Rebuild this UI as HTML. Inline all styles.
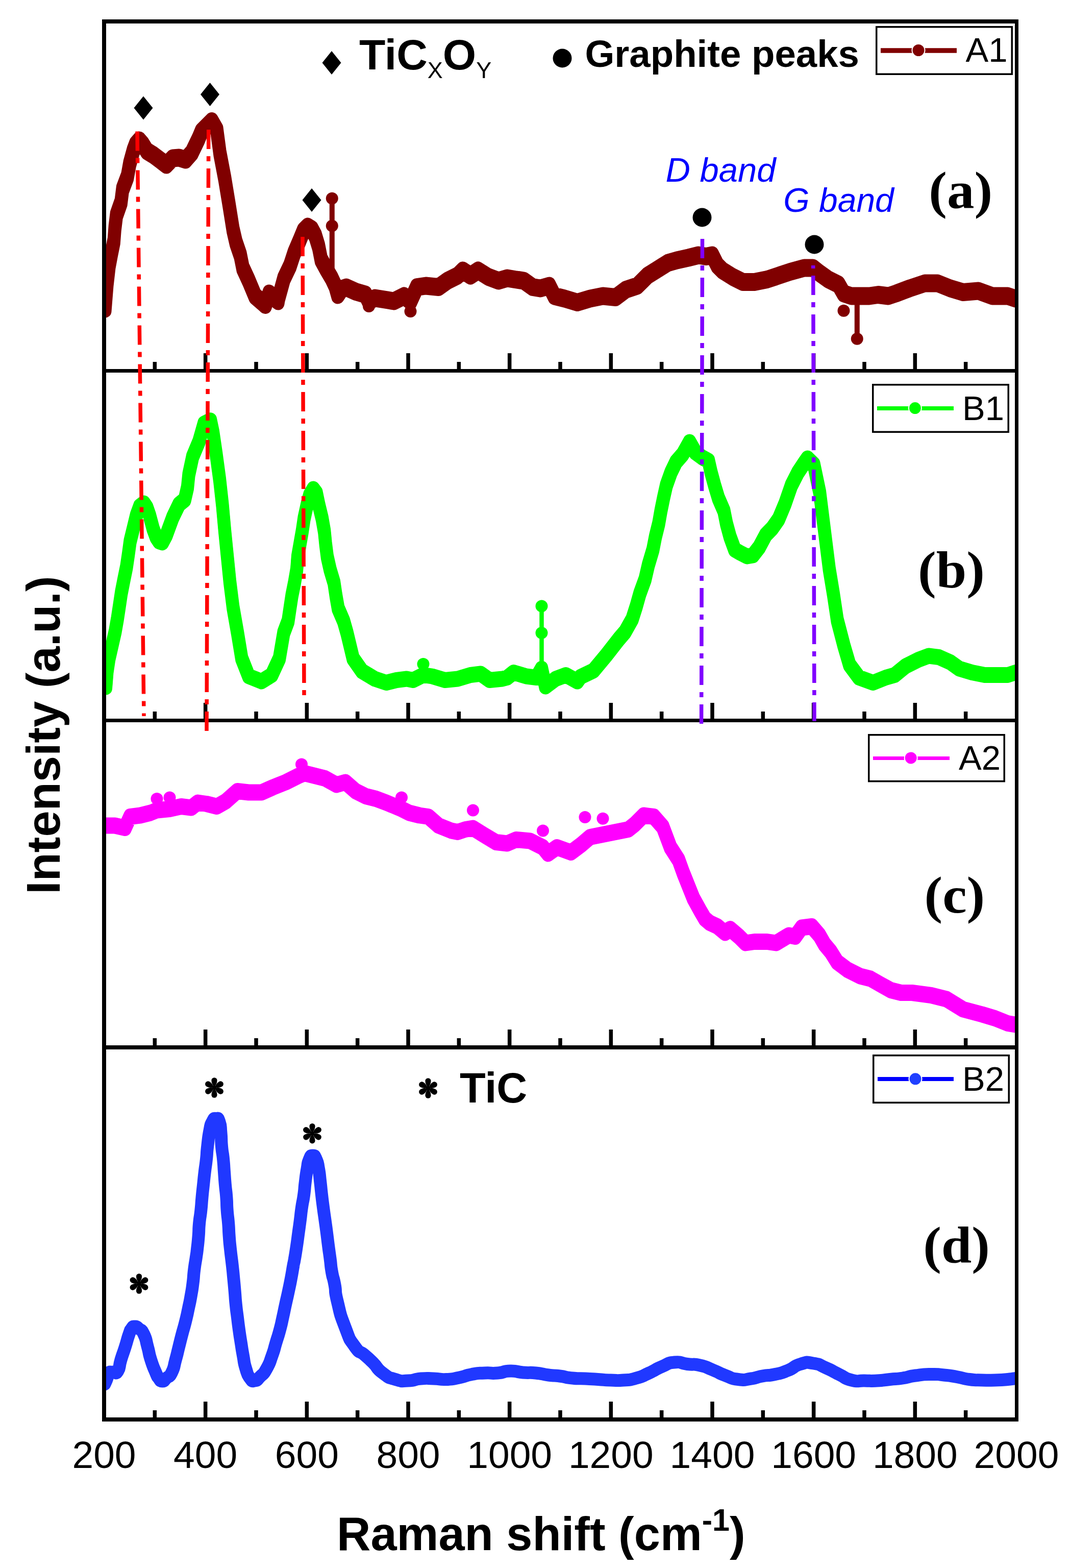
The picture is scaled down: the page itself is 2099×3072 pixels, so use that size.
<!DOCTYPE html>
<html><head><meta charset="utf-8"><title>Raman spectra</title><style>html,body{margin:0;padding:0;background:#fff;overflow:hidden}svg{display:block}text{font-family:"Liberation Sans",Arial,sans-serif}.serif{font-family:"Liberation Serif","Times New Roman",serif;font-weight:bold}</style></head><body>
<svg width="2099" height="3072" viewBox="0 0 2099 3072">
<rect x="0" y="0" width="2099" height="3072" fill="#fff"/>
<defs><clipPath id="ca"><rect x="200" y="38" width="1796" height="692"/></clipPath><clipPath id="cb"><rect x="200" y="723" width="1796" height="692"/></clipPath><clipPath id="cc"><rect x="200" y="1408" width="1796" height="648"/></clipPath><clipPath id="cd"><rect x="200" y="2048" width="1796" height="737"/></clipPath></defs>
<g clip-path="url(#ca)" fill="#800000" stroke="#800000"><polyline points="206.00,600.00 208.00,575.00 210.00,550.00 214.00,515.00 218.30,492.00 223.30,467.00 225.20,442.00 228.30,416.50 237.20,391.00 240.30,366.00 249.70,341.00 254.20,316.00 261.10,291.00 266.00,278.00 273.00,270.00 280.00,278.00 288.00,291.00 301.00,299.00 313.00,308.00 326.00,318.00 338.50,305.00 351.00,304.00 363.70,308.00 376.00,294.00 389.00,267.00 395.00,252.50 415.00,232.50 425.00,250.00 431.00,295.00 440.50,345.00 448.75,395.00 456.75,445.00 462.50,470.00 471.00,495.00 476.00,520.00 487.50,545.00 500.00,575.00 520.00,592.50 527.50,570.00 545.00,585.00 546.00,579.00 556.40,541.00 568.30,516.00 576.50,491.00 587.20,466.00 595.00,447.00 603.00,439.00 611.00,444.00 618.00,457.00 624.40,478.00 629.40,503.50 640.00,523.00 650.00,540.00 657.00,555.00 662.00,573.00 670.00,561.00 678.50,558.00 697.40,566.50 716.30,572.00 722.60,585.00 735.00,579.00 757.00,582.50 772.00,585.00 792.00,575.00 804.50,585.00 817.00,557.50 834.50,555.00 859.50,557.50 877.00,545.00 897.00,535.00 907.00,525.00 922.00,535.00 937.00,525.00 957.00,537.50 977.00,545.00 994.00,540.00 1009.00,542.50 1026.50,545.00 1044.00,557.50 1059.00,560.00 1076.50,555.00 1086.50,575.00 1106.50,580.00 1131.50,587.50 1156.50,580.00 1181.50,575.00 1206.50,577.50 1226.50,562.50 1249.00,555.00 1269.00,535.00 1289.00,522.50 1309.00,510.00 1326.50,505.00 1349.00,500.00 1369.00,495.00 1384.00,497.50 1396.00,495.00 1406.00,515.00 1416.00,525.00 1436.00,537.50 1456.00,547.50 1478.50,547.50 1503.50,542.50 1526.00,535.00 1548.50,527.50 1576.00,520.00 1593.50,520.00 1606.00,530.00 1623.50,542.50 1643.50,552.50 1653.50,570.00 1668.50,575.00 1703.50,575.00 1721.00,572.50 1741.00,575.00 1756.00,570.00 1782.50,560.00 1812.50,550.00 1837.50,550.00 1862.50,560.00 1887.50,567.50 1917.50,565.00 1945.00,575.00 1975.00,575.00 1990.00,580.00" fill="none" stroke-width="25" stroke-linejoin="round" stroke-linecap="round"/><polyline points="206.00,610.00 208.00,585.00 210.00,560.00 214.00,525.00 218.30,502.00 223.30,477.00 225.20,452.00 228.30,426.50 237.20,401.00 240.30,376.00 249.70,351.00 254.20,326.00 261.10,301.00 266.00,288.00 273.00,280.00 280.00,288.00 288.00,301.00 301.00,309.00 313.00,318.00 326.00,328.00 338.50,315.00 351.00,314.00 363.70,318.00 376.00,304.00 389.00,277.00 395.00,262.50 415.00,242.50 425.00,260.00 431.00,305.00 440.50,355.00 448.75,405.00 456.75,455.00 462.50,480.00 471.00,505.00 476.00,530.00 487.50,555.00 500.00,585.00 520.00,602.50 527.50,580.00 545.00,595.00 546.00,589.00 556.40,551.00 568.30,526.00 576.50,501.00 587.20,476.00 595.00,457.00 603.00,449.00 611.00,454.00 618.00,467.00 624.40,488.00 629.40,513.50 640.00,533.00 650.00,550.00 657.00,565.00 662.00,583.00 670.00,571.00 678.50,568.00 697.40,576.50 716.30,582.00 722.60,595.00 735.00,589.00 757.00,592.50 772.00,595.00 792.00,585.00 804.50,595.00 817.00,567.50 834.50,565.00 859.50,567.50 877.00,555.00 897.00,545.00 907.00,535.00 922.00,545.00 937.00,535.00 957.00,547.50 977.00,555.00 994.00,550.00 1009.00,552.50 1026.50,555.00 1044.00,567.50 1059.00,570.00 1076.50,565.00 1086.50,585.00 1106.50,590.00 1131.50,597.50 1156.50,590.00 1181.50,585.00 1206.50,587.50 1226.50,572.50 1249.00,565.00 1269.00,545.00 1289.00,532.50 1309.00,520.00 1326.50,515.00 1349.00,510.00 1369.00,505.00 1384.00,507.50 1396.00,505.00 1406.00,525.00 1416.00,535.00 1436.00,547.50 1456.00,557.50 1478.50,557.50 1503.50,552.50 1526.00,545.00 1548.50,537.50 1576.00,530.00 1593.50,530.00 1606.00,540.00 1623.50,552.50 1643.50,562.50 1653.50,580.00 1668.50,585.00 1703.50,585.00 1721.00,582.50 1741.00,585.00 1756.00,580.00 1782.50,570.00 1812.50,560.00 1837.50,560.00 1862.50,570.00 1887.50,577.50 1917.50,575.00 1945.00,585.00 1975.00,585.00 1990.00,590.00" fill="none" stroke-width="25" stroke-linejoin="round" stroke-linecap="round"/><line x1="650.75" y1="388" x2="650.75" y2="540" stroke-width="10"/><line x1="1679.75" y1="575" x2="1679.75" y2="663" stroke-width="10"/><circle cx="206" cy="600" r="12" stroke="none"/><circle cx="650.75" cy="388.75" r="12" stroke="none"/><circle cx="650.75" cy="442.5" r="12" stroke="none"/><circle cx="723" cy="600" r="12" stroke="none"/><circle cx="804.5" cy="610" r="12" stroke="none"/><circle cx="1653.5" cy="608.75" r="12" stroke="none"/><circle cx="1679.75" cy="663.75" r="12" stroke="none"/></g>
<g clip-path="url(#cb)" fill="#00FF00" stroke="#00FF00"><polyline points="207.50,1343.00 210.00,1312.00 213.75,1287.00 225.80,1234.00 230.20,1209.00 234.00,1184.00 237.80,1158.50 242.80,1133.00 247.90,1108.00 251.60,1083.00 255.00,1058.00 261.10,1033.00 267.40,1007.00 274.00,989.00 282.00,983.00 288.00,992.00 293.20,1007.00 300.10,1033.00 306.00,1049.00 312.00,1058.00 318.00,1060.00 326.00,1045.00 338.50,1011.00 351.00,985.00 362.00,976.00 367.50,952.00 370.00,927.00 377.50,892.00 390.00,862.00 400.00,827.00 412.50,820.75 417.50,844.50 423.75,887.00 430.50,937.00 436.00,987.00 440.50,1037.00 445.50,1087.00 450.50,1137.00 456.75,1187.00 465.50,1237.00 473.75,1287.00 487.50,1322.00 512.50,1332.00 532.50,1319.50 547.50,1287.00 556.00,1237.00 564.60,1214.00 568.30,1189.00 572.10,1164.00 577.20,1138.50 581.60,1113.00 583.50,1088.00 587.90,1063.00 592.30,1038.00 596.00,1013.00 601.70,987.00 607.00,967.00 614.00,955.00 620.00,963.00 625.00,987.00 631.30,1013.00 635.70,1038.00 638.20,1063.00 641.40,1088.00 647.00,1113.00 654.60,1138.50 658.40,1164.00 662.80,1189.00 673.50,1214.00 680.00,1237.00 692.00,1287.00 709.50,1312.00 734.50,1327.00 757.00,1334.50 777.00,1329.50 797.00,1327.00 809.50,1329.50 829.50,1319.50 847.00,1322.00 872.00,1329.50 897.00,1327.00 922.00,1319.50 942.00,1317.00 959.50,1329.50 984.50,1327.00 994.00,1324.50 1006.50,1314.50 1031.50,1322.00 1051.50,1324.50 1061.50,1307.00 1069.00,1342.00 1089.00,1327.00 1109.00,1319.50 1131.50,1332.00 1137.80,1323.00 1163.00,1311.00 1188.00,1281.00 1213.00,1249.00 1225.00,1235.00 1239.00,1210.00 1247.00,1185.00 1254.00,1160.00 1264.20,1132.00 1270.70,1104.00 1279.60,1074.00 1284.60,1048.50 1290.90,1023.00 1295.30,998.00 1300.40,973.00 1306.00,948.00 1315.00,922.60 1325.00,902.00 1338.00,887.00 1351.40,863.00 1363.00,883.50 1376.00,893.00 1388.50,900.00 1393.60,922.60 1400.50,948.00 1408.00,973.00 1418.80,998.00 1423.80,1023.00 1430.70,1048.50 1440.00,1074.00 1450.40,1080.00 1464.00,1087.00 1475.60,1085.00 1488.00,1069.00 1500.80,1045.00 1513.40,1032.00 1526.00,1014.00 1538.50,984.00 1551.00,948.00 1563.70,923.00 1576.30,904.00 1582.60,895.00 1595.00,907.00 1606.50,962.00 1612.75,1012.00 1619.00,1062.00 1625.25,1112.00 1633.50,1162.00 1641.00,1212.00 1654.00,1262.00 1665.00,1299.50 1683.50,1324.50 1711.00,1334.50 1736.00,1324.50 1753.50,1319.50 1775.00,1302.00 1800.00,1289.50 1820.00,1282.00 1840.00,1284.50 1862.50,1294.50 1880.00,1307.00 1905.00,1314.50 1930.00,1319.50 1955.00,1319.50 1975.00,1319.50 1990.00,1314.50" fill="none" stroke-width="25" stroke-linejoin="round" stroke-linecap="round"/><polyline points="207.50,1349.00 210.00,1318.00 213.75,1293.00 225.80,1240.00 230.20,1215.00 234.00,1190.00 237.80,1164.50 242.80,1139.00 247.90,1114.00 251.60,1089.00 255.00,1064.00 261.10,1039.00 267.40,1013.00 274.00,995.00 282.00,989.00 288.00,998.00 293.20,1013.00 300.10,1039.00 306.00,1055.00 312.00,1064.00 318.00,1066.00 326.00,1051.00 338.50,1017.00 351.00,991.00 362.00,982.00 367.50,958.00 370.00,933.00 377.50,898.00 390.00,868.00 400.00,833.00 412.50,826.75 417.50,850.50 423.75,893.00 430.50,943.00 436.00,993.00 440.50,1043.00 445.50,1093.00 450.50,1143.00 456.75,1193.00 465.50,1243.00 473.75,1293.00 487.50,1328.00 512.50,1338.00 532.50,1325.50 547.50,1293.00 556.00,1243.00 564.60,1220.00 568.30,1195.00 572.10,1170.00 577.20,1144.50 581.60,1119.00 583.50,1094.00 587.90,1069.00 592.30,1044.00 596.00,1019.00 601.70,993.00 607.00,973.00 614.00,961.00 620.00,969.00 625.00,993.00 631.30,1019.00 635.70,1044.00 638.20,1069.00 641.40,1094.00 647.00,1119.00 654.60,1144.50 658.40,1170.00 662.80,1195.00 673.50,1220.00 680.00,1243.00 692.00,1293.00 709.50,1318.00 734.50,1333.00 757.00,1340.50 777.00,1335.50 797.00,1333.00 809.50,1335.50 829.50,1325.50 847.00,1328.00 872.00,1335.50 897.00,1333.00 922.00,1325.50 942.00,1323.00 959.50,1335.50 984.50,1333.00 994.00,1330.50 1006.50,1320.50 1031.50,1328.00 1051.50,1330.50 1061.50,1313.00 1069.00,1348.00 1089.00,1333.00 1109.00,1325.50 1131.50,1338.00 1137.80,1329.00 1163.00,1317.00 1188.00,1287.00 1213.00,1255.00 1225.00,1241.00 1239.00,1216.00 1247.00,1191.00 1254.00,1166.00 1264.20,1138.00 1270.70,1110.00 1279.60,1080.00 1284.60,1054.50 1290.90,1029.00 1295.30,1004.00 1300.40,979.00 1306.00,954.00 1315.00,928.60 1325.00,908.00 1338.00,893.00 1351.40,869.00 1363.00,889.50 1376.00,899.00 1388.50,906.00 1393.60,928.60 1400.50,954.00 1408.00,979.00 1418.80,1004.00 1423.80,1029.00 1430.70,1054.50 1440.00,1080.00 1450.40,1086.00 1464.00,1093.00 1475.60,1091.00 1488.00,1075.00 1500.80,1051.00 1513.40,1038.00 1526.00,1020.00 1538.50,990.00 1551.00,954.00 1563.70,929.00 1576.30,910.00 1582.60,901.00 1595.00,913.00 1606.50,968.00 1612.75,1018.00 1619.00,1068.00 1625.25,1118.00 1633.50,1168.00 1641.00,1218.00 1654.00,1268.00 1665.00,1305.50 1683.50,1330.50 1711.00,1340.50 1736.00,1330.50 1753.50,1325.50 1775.00,1308.00 1800.00,1295.50 1820.00,1288.00 1840.00,1290.50 1862.50,1300.50 1880.00,1313.00 1905.00,1320.50 1930.00,1325.50 1955.00,1325.50 1975.00,1325.50 1990.00,1320.50" fill="none" stroke-width="25" stroke-linejoin="round" stroke-linecap="round"/><line x1="1061.5" y1="1187.5" x2="1061.5" y2="1310" stroke-width="8.5"/><circle cx="207.5" cy="1346" r="12" stroke="none"/><circle cx="1061.5" cy="1187.5" r="12" stroke="none"/><circle cx="1061.5" cy="1240" r="12" stroke="none"/><circle cx="829.5" cy="1301" r="12" stroke="none"/></g>
<g clip-path="url(#cc)" fill="#FF00FF" stroke="#FF00FF"><polyline points="205.00,1614.00 225.00,1614.00 245.00,1618.50 255.00,1596.50 275.00,1594.00 295.00,1589.00 307.50,1584.00 332.50,1581.50 355.00,1576.50 375.00,1579.00 387.50,1569.00 405.00,1571.50 425.00,1576.50 442.50,1566.50 465.00,1546.50 487.50,1549.00 512.50,1549.00 535.00,1539.00 560.00,1529.00 585.00,1516.50 597.00,1511.50 617.00,1516.50 637.00,1521.50 659.50,1534.00 677.00,1529.00 697.00,1546.50 717.00,1556.50 737.00,1561.50 757.00,1569.00 787.00,1581.50 802.00,1589.00 822.00,1594.00 839.50,1596.50 859.50,1614.00 884.50,1624.00 897.00,1626.50 912.00,1621.50 927.00,1619.00 947.00,1631.50 972.00,1646.50 994.00,1649.00 1011.50,1641.50 1039.00,1644.00 1064.00,1656.50 1074.00,1669.00 1091.50,1656.50 1119.00,1666.50 1139.00,1651.50 1156.50,1636.50 1181.50,1631.50 1206.50,1626.50 1231.50,1621.50 1244.00,1611.50 1261.50,1594.00 1281.50,1596.50 1299.00,1616.50 1314.00,1656.50 1330.00,1681.50 1339.00,1706.50 1349.00,1731.50 1359.00,1756.50 1372.75,1781.50 1381.50,1796.50 1391.00,1804.50 1406.00,1811.50 1421.00,1824.00 1431.00,1816.50 1448.50,1831.50 1461.00,1844.00 1478.50,1841.50 1503.50,1841.50 1521.00,1844.00 1546.00,1829.00 1558.50,1831.50 1571.00,1814.00 1591.00,1811.50 1606.00,1829.00 1616.00,1846.50 1628.50,1861.50 1641.00,1881.50 1661.00,1896.50 1686.00,1909.00 1706.00,1914.00 1723.50,1924.00 1746.00,1936.50 1766.00,1941.50 1787.50,1941.50 1825.00,1946.50 1855.00,1954.00 1887.50,1974.00 1925.00,1984.00 1950.00,1991.50 1975.00,2001.50 1990.00,2004.00" fill="none" stroke-width="25" stroke-linejoin="round" stroke-linecap="round"/><polyline points="205.00,1621.00 225.00,1621.00 245.00,1625.50 255.00,1603.50 275.00,1601.00 295.00,1596.00 307.50,1591.00 332.50,1588.50 355.00,1583.50 375.00,1586.00 387.50,1576.00 405.00,1578.50 425.00,1583.50 442.50,1573.50 465.00,1553.50 487.50,1556.00 512.50,1556.00 535.00,1546.00 560.00,1536.00 585.00,1523.50 597.00,1518.50 617.00,1523.50 637.00,1528.50 659.50,1541.00 677.00,1536.00 697.00,1553.50 717.00,1563.50 737.00,1568.50 757.00,1576.00 787.00,1588.50 802.00,1596.00 822.00,1601.00 839.50,1603.50 859.50,1621.00 884.50,1631.00 897.00,1633.50 912.00,1628.50 927.00,1626.00 947.00,1638.50 972.00,1653.50 994.00,1656.00 1011.50,1648.50 1039.00,1651.00 1064.00,1663.50 1074.00,1676.00 1091.50,1663.50 1119.00,1673.50 1139.00,1658.50 1156.50,1643.50 1181.50,1638.50 1206.50,1633.50 1231.50,1628.50 1244.00,1618.50 1261.50,1601.00 1281.50,1603.50 1299.00,1623.50 1314.00,1663.50 1330.00,1688.50 1339.00,1713.50 1349.00,1738.50 1359.00,1763.50 1372.75,1788.50 1381.50,1803.50 1391.00,1811.50 1406.00,1818.50 1421.00,1831.00 1431.00,1823.50 1448.50,1838.50 1461.00,1851.00 1478.50,1848.50 1503.50,1848.50 1521.00,1851.00 1546.00,1836.00 1558.50,1838.50 1571.00,1821.00 1591.00,1818.50 1606.00,1836.00 1616.00,1853.50 1628.50,1868.50 1641.00,1888.50 1661.00,1903.50 1686.00,1916.00 1706.00,1921.00 1723.50,1931.00 1746.00,1943.50 1766.00,1948.50 1787.50,1948.50 1825.00,1953.50 1855.00,1961.00 1887.50,1981.00 1925.00,1991.00 1950.00,1998.50 1975.00,2008.50 1990.00,2011.00" fill="none" stroke-width="25" stroke-linejoin="round" stroke-linecap="round"/><circle cx="591" cy="1497.5" r="12" stroke="none"/><circle cx="307.5" cy="1565" r="12" stroke="none"/><circle cx="332.5" cy="1562.5" r="12" stroke="none"/><circle cx="787" cy="1562.5" r="12" stroke="none"/><circle cx="927" cy="1587.5" r="12" stroke="none"/><circle cx="1064" cy="1627.5" r="12" stroke="none"/><circle cx="1146.5" cy="1601" r="12" stroke="none"/><circle cx="1181.5" cy="1603.75" r="12" stroke="none"/></g>
<g clip-path="url(#cd)" fill="#2038FF" stroke="#2038FF"><path d="M205.00,2712.00 C206.67,2708.00 207.67,2707.33 210.00,2700.00 C212.33,2692.67 208.00,2694.00 212.00,2690.00 C216.00,2686.00 215.67,2689.33 222.00,2688.00 C228.33,2686.67 226.00,2694.00 231.00,2686.00 C236.00,2678.00 232.23,2679.67 237.00,2664.00 C241.77,2648.33 240.00,2655.67 245.30,2639.00 C250.60,2622.33 248.67,2626.00 252.90,2614.00 C257.13,2602.00 254.30,2608.00 258.00,2603.00 C261.70,2598.00 259.33,2599.00 264.00,2599.00 C268.67,2599.00 266.03,2598.00 272.00,2603.00 C277.97,2608.00 276.10,2602.00 281.90,2614.00 C287.70,2626.00 284.80,2622.33 289.40,2639.00 C294.00,2655.67 290.43,2647.33 295.70,2664.00 C300.97,2680.67 300.10,2677.00 305.20,2689.00 C310.30,2701.00 306.73,2694.33 311.00,2700.00 C315.27,2705.67 313.00,2706.00 318.00,2706.00 C323.00,2706.00 319.80,2705.67 326.00,2700.00 C332.20,2694.33 330.53,2701.00 336.60,2689.00 C342.67,2677.00 339.57,2680.67 344.20,2664.00 C348.83,2647.33 346.30,2655.67 350.50,2639.00 C354.70,2622.33 352.40,2630.83 356.80,2614.00 C361.20,2597.17 359.50,2605.50 363.70,2588.50 C367.90,2571.50 365.83,2579.83 369.40,2563.00 C372.97,2546.17 371.47,2554.67 374.40,2538.00 C377.33,2521.33 376.10,2529.67 378.20,2513.00 C380.30,2496.33 378.60,2504.80 380.70,2488.00 C382.80,2471.20 382.53,2476.27 384.50,2462.60 C386.47,2448.93 385.07,2460.53 386.60,2447.00 C388.13,2433.47 387.77,2438.67 389.10,2422.00 C390.43,2405.33 389.03,2413.83 390.60,2397.00 C392.17,2380.17 392.00,2388.50 393.80,2371.50 C395.60,2354.50 394.40,2362.83 396.00,2346.00 C397.60,2329.17 396.83,2337.67 398.60,2321.00 C400.37,2304.33 399.33,2312.67 401.30,2296.00 C403.27,2279.33 402.70,2287.67 404.50,2271.00 C406.30,2254.33 404.53,2264.67 406.70,2246.00 C408.87,2227.33 407.90,2231.00 411.00,2215.00 C414.10,2199.00 411.97,2205.87 416.00,2198.00 C420.03,2190.13 418.43,2191.40 423.10,2191.40 C427.77,2191.40 426.70,2188.47 430.00,2198.00 C433.30,2207.53 431.50,2204.00 433.00,2220.00 C434.50,2236.00 432.97,2229.00 434.50,2246.00 C436.03,2263.00 435.93,2254.33 437.60,2271.00 C439.27,2287.67 438.23,2279.33 439.50,2296.00 C440.77,2312.67 439.93,2304.33 441.40,2321.00 C442.87,2337.67 442.63,2329.17 443.90,2346.00 C445.17,2362.83 443.93,2354.50 445.20,2371.50 C446.47,2388.50 446.37,2380.17 447.70,2397.00 C449.03,2413.83 447.93,2405.33 449.20,2422.00 C450.47,2438.67 449.43,2427.67 451.50,2447.00 C453.57,2466.33 453.27,2460.67 455.40,2480.00 C457.53,2499.33 456.30,2488.33 457.90,2505.00 C459.50,2521.67 458.73,2513.13 460.20,2530.00 C461.67,2546.87 460.57,2538.60 462.30,2555.60 C464.03,2572.60 463.30,2564.20 465.40,2581.00 C467.50,2597.80 466.27,2589.33 468.60,2606.00 C470.93,2622.67 469.77,2614.33 472.40,2631.00 C475.03,2647.67 473.37,2639.17 476.50,2656.00 C479.63,2672.83 477.30,2666.83 481.80,2681.50 C486.30,2696.17 484.20,2692.17 490.00,2700.00 C495.80,2707.83 492.53,2706.00 499.20,2705.00 C505.87,2704.00 502.23,2704.83 510.00,2697.00 C517.77,2689.17 514.77,2695.17 522.50,2681.50 C530.23,2667.83 527.10,2672.83 533.20,2656.00 C539.30,2639.17 535.77,2647.67 540.80,2631.00 C545.83,2614.33 543.83,2622.67 548.30,2606.00 C552.77,2589.33 550.43,2597.80 554.20,2581.00 C557.97,2564.20 555.90,2572.60 559.60,2555.60 C563.30,2538.60 561.70,2546.87 565.30,2530.00 C568.90,2513.13 567.23,2521.67 570.40,2505.00 C573.57,2488.33 572.50,2492.67 574.80,2480.00 C577.10,2467.33 575.10,2479.83 577.30,2467.00 C579.50,2454.17 578.87,2458.50 581.40,2441.50 C583.93,2424.50 582.60,2432.83 584.90,2416.00 C587.20,2399.17 586.13,2407.67 588.30,2391.00 C590.47,2374.33 588.97,2382.67 591.40,2366.00 C593.83,2349.33 593.30,2357.67 595.60,2341.00 C597.90,2324.33 596.17,2333.00 598.30,2316.00 C600.43,2299.00 599.43,2304.67 602.00,2290.00 C604.57,2275.33 602.33,2280.67 606.00,2272.00 C609.67,2263.33 608.33,2264.00 613.00,2264.00 C617.67,2264.00 616.17,2263.33 620.00,2272.00 C623.83,2280.67 621.93,2275.67 624.50,2290.00 C627.07,2304.33 625.70,2298.00 627.70,2315.00 C629.70,2332.00 628.53,2324.00 630.50,2341.00 C632.47,2358.00 631.40,2349.33 633.60,2366.00 C635.80,2382.67 634.80,2374.33 637.10,2391.00 C639.40,2407.67 638.30,2399.17 640.50,2416.00 C642.70,2432.83 641.47,2424.50 643.70,2441.50 C645.93,2458.50 644.97,2450.17 647.20,2467.00 C649.43,2483.83 647.47,2475.33 650.40,2492.00 C653.33,2508.67 652.38,2497.67 656.00,2517.00 C659.62,2536.33 654.50,2522.33 661.25,2550.00 C668.00,2577.67 665.00,2570.83 676.25,2600.00 C687.50,2629.17 682.08,2619.17 695.00,2637.50 C707.92,2655.83 702.92,2644.17 715.00,2655.00 C727.08,2665.83 719.58,2658.33 731.25,2670.00 C742.92,2681.67 735.42,2679.17 750.00,2690.00 C764.58,2700.83 758.33,2697.50 775.00,2702.50 C791.67,2707.50 783.33,2705.50 800.00,2705.00 C816.67,2704.50 808.33,2702.33 825.00,2701.00 C841.67,2699.67 833.33,2700.50 850.00,2701.00 C866.67,2701.50 858.33,2703.17 875.00,2702.50 C891.67,2701.83 883.33,2702.33 900.00,2699.00 C916.67,2695.67 908.33,2695.50 925.00,2692.50 C941.67,2689.50 933.33,2690.83 950.00,2690.00 C966.67,2689.17 958.33,2691.33 975.00,2690.00 C991.67,2688.67 983.33,2686.33 1000.00,2686.00 C1016.67,2685.67 1008.33,2687.67 1025.00,2689.00 C1041.67,2690.33 1033.33,2688.33 1050.00,2690.00 C1066.67,2691.67 1059.33,2692.00 1075.00,2694.00 C1090.67,2696.00 1081.33,2694.00 1097.00,2696.00 C1112.67,2698.00 1105.33,2698.33 1122.00,2700.00 C1138.67,2701.67 1130.33,2700.17 1147.00,2701.00 C1163.67,2701.83 1155.33,2701.50 1172.00,2702.50 C1188.67,2703.50 1180.33,2703.50 1197.00,2704.00 C1213.67,2704.50 1205.33,2705.33 1222.00,2704.00 C1238.67,2702.67 1230.33,2704.67 1247.00,2700.00 C1263.67,2695.33 1255.33,2697.50 1272.00,2690.00 C1288.67,2682.50 1280.33,2684.50 1297.00,2677.50 C1313.67,2670.50 1305.33,2670.67 1322.00,2669.00 C1338.67,2667.33 1330.33,2670.50 1347.00,2672.50 C1363.67,2674.50 1355.33,2671.17 1372.00,2675.00 C1388.67,2678.83 1380.33,2677.33 1397.00,2684.00 C1413.67,2690.67 1405.33,2688.83 1422.00,2695.00 C1438.67,2701.17 1430.33,2700.50 1447.00,2702.50 C1463.67,2704.50 1456.33,2703.17 1472.00,2701.00 C1487.67,2698.83 1478.33,2698.83 1494.00,2696.00 C1509.67,2693.17 1502.33,2696.17 1519.00,2692.50 C1535.67,2688.83 1527.33,2691.67 1544.00,2685.00 C1560.67,2678.33 1552.33,2677.17 1569.00,2672.50 C1585.67,2667.83 1577.33,2668.50 1594.00,2671.00 C1610.67,2673.50 1602.33,2672.83 1619.00,2680.00 C1635.67,2687.17 1627.33,2684.50 1644.00,2692.50 C1660.67,2700.50 1652.33,2699.83 1669.00,2704.00 C1685.67,2708.17 1677.33,2704.67 1694.00,2705.00 C1710.67,2705.33 1702.33,2705.83 1719.00,2705.00 C1735.67,2704.17 1727.33,2704.17 1744.00,2702.50 C1760.67,2700.83 1752.33,2702.50 1769.00,2700.00 C1785.67,2697.50 1775.33,2697.50 1794.00,2695.00 C1812.67,2692.50 1806.33,2692.83 1825.00,2692.50 C1843.67,2692.17 1833.33,2692.33 1850.00,2694.00 C1866.67,2695.67 1858.33,2694.67 1875.00,2697.50 C1891.67,2700.33 1883.33,2700.33 1900.00,2702.50 C1916.67,2704.67 1908.33,2703.50 1925.00,2704.00 C1941.67,2704.50 1933.33,2704.50 1950.00,2704.00 C1966.67,2703.50 1961.00,2703.83 1975.00,2702.50 C1989.00,2701.17 1986.33,2700.83 1992.00,2700.00" fill="none" stroke-width="25" stroke-linejoin="round" stroke-linecap="round"/></g>
<g fill="#000"><rect x="200" y="38" width="8" height="2747"/><rect x="1989" y="38" width="7" height="2747"/><rect x="200" y="38" width="1796" height="8"/><rect x="200" y="723" width="1796" height="7"/><rect x="299.58" y="709" width="7.5" height="14"/><rect x="398.92" y="692" width="7.5" height="31"/><rect x="498.25" y="709" width="7.5" height="14"/><rect x="597.58" y="692" width="7.5" height="31"/><rect x="696.91" y="709" width="7.5" height="14"/><rect x="796.25" y="692" width="7.5" height="31"/><rect x="895.58" y="709" width="7.5" height="14"/><rect x="994.91" y="692" width="7.5" height="31"/><rect x="1094.25" y="709" width="7.5" height="14"/><rect x="1193.58" y="692" width="7.5" height="31"/><rect x="1292.91" y="709" width="7.5" height="14"/><rect x="1392.25" y="692" width="7.5" height="31"/><rect x="1491.58" y="709" width="7.5" height="14"/><rect x="1590.91" y="692" width="7.5" height="31"/><rect x="1690.25" y="709" width="7.5" height="14"/><rect x="1789.58" y="692" width="7.5" height="31"/><rect x="1888.91" y="709" width="7.5" height="14"/><rect x="200" y="1408" width="1796" height="7"/><rect x="299.58" y="1394" width="7.5" height="14"/><rect x="398.92" y="1377" width="7.5" height="31"/><rect x="498.25" y="1394" width="7.5" height="14"/><rect x="597.58" y="1377" width="7.5" height="31"/><rect x="696.91" y="1394" width="7.5" height="14"/><rect x="796.25" y="1377" width="7.5" height="31"/><rect x="895.58" y="1394" width="7.5" height="14"/><rect x="994.91" y="1377" width="7.5" height="31"/><rect x="1094.25" y="1394" width="7.5" height="14"/><rect x="1193.58" y="1377" width="7.5" height="31"/><rect x="1292.91" y="1394" width="7.5" height="14"/><rect x="1392.25" y="1377" width="7.5" height="31"/><rect x="1491.58" y="1394" width="7.5" height="14"/><rect x="1590.91" y="1377" width="7.5" height="31"/><rect x="1690.25" y="1394" width="7.5" height="14"/><rect x="1789.58" y="1377" width="7.5" height="31"/><rect x="1888.91" y="1394" width="7.5" height="14"/><rect x="200" y="2048" width="1796" height="8"/><rect x="299.58" y="2034" width="7.5" height="14"/><rect x="398.92" y="2017" width="7.5" height="31"/><rect x="498.25" y="2034" width="7.5" height="14"/><rect x="597.58" y="2017" width="7.5" height="31"/><rect x="696.91" y="2034" width="7.5" height="14"/><rect x="796.25" y="2017" width="7.5" height="31"/><rect x="895.58" y="2034" width="7.5" height="14"/><rect x="994.91" y="2017" width="7.5" height="31"/><rect x="1094.25" y="2034" width="7.5" height="14"/><rect x="1193.58" y="2017" width="7.5" height="31"/><rect x="1292.91" y="2034" width="7.5" height="14"/><rect x="1392.25" y="2017" width="7.5" height="31"/><rect x="1491.58" y="2034" width="7.5" height="14"/><rect x="1590.91" y="2017" width="7.5" height="31"/><rect x="1690.25" y="2034" width="7.5" height="14"/><rect x="1789.58" y="2017" width="7.5" height="31"/><rect x="1888.91" y="2034" width="7.5" height="14"/><rect x="200" y="2777" width="1796" height="8"/><rect x="299.58" y="2763" width="7.5" height="14"/><rect x="398.92" y="2746" width="7.5" height="31"/><rect x="498.25" y="2763" width="7.5" height="14"/><rect x="597.58" y="2746" width="7.5" height="31"/><rect x="696.91" y="2763" width="7.5" height="14"/><rect x="796.25" y="2746" width="7.5" height="31"/><rect x="895.58" y="2763" width="7.5" height="14"/><rect x="994.91" y="2746" width="7.5" height="31"/><rect x="1094.25" y="2763" width="7.5" height="14"/><rect x="1193.58" y="2746" width="7.5" height="31"/><rect x="1292.91" y="2763" width="7.5" height="14"/><rect x="1392.25" y="2746" width="7.5" height="31"/><rect x="1491.58" y="2763" width="7.5" height="14"/><rect x="1590.91" y="2746" width="7.5" height="31"/><rect x="1690.25" y="2763" width="7.5" height="14"/><rect x="1789.58" y="2746" width="7.5" height="31"/><rect x="1888.91" y="2763" width="7.5" height="14"/></g>
<line x1="269" y1="257.5" x2="282" y2="1403" stroke="#FF0000" stroke-width="7.5" stroke-dasharray="38 14 10 14" stroke-dashoffset="0"/>
<line x1="408.75" y1="254" x2="405" y2="1432" stroke="#FF0000" stroke-width="7.5" stroke-dasharray="38 14 10 14" stroke-dashoffset="0"/>
<line x1="593" y1="464" x2="596" y2="1362" stroke="#FF0000" stroke-width="7.5" stroke-dasharray="38 14 10 14" stroke-dashoffset="0"/>
<line x1="1376.5" y1="468" x2="1374.6" y2="1418" stroke="#8000FF" stroke-width="7.5" stroke-dasharray="38 14 10 14" stroke-dashoffset="0"/>
<line x1="1593.7" y1="520" x2="1596" y2="1413" stroke="#8000FF" stroke-width="7.5" stroke-dasharray="38 14 10 14" stroke-dashoffset="56"/>
<g font-size="75" fill="#000"><text x="204.00" y="2876" text-anchor="middle">200</text><text x="402.67" y="2876" text-anchor="middle">400</text><text x="601.33" y="2876" text-anchor="middle">600</text><text x="800.00" y="2876" text-anchor="middle">800</text><text x="998.66" y="2876" text-anchor="middle">1000</text><text x="1197.33" y="2876" text-anchor="middle">1200</text><text x="1396.00" y="2876" text-anchor="middle">1400</text><text x="1594.66" y="2876" text-anchor="middle">1600</text><text x="1793.33" y="2876" text-anchor="middle">1800</text><text x="1991.99" y="2876" text-anchor="middle">2000</text></g>
<text x="660" y="3037" font-size="92" font-weight="bold">Raman shift (cm<tspan font-size="61" dy="-38">-1</tspan><tspan dy="38">)</tspan></text>
<text transform="translate(117,1752) rotate(-90)" font-size="92" font-weight="bold">Intensity (a.u.)</text>
<polygon points="650,100.0 668.5,123 650,146.0 631.5,123" fill="#000"/>
<polygon points="281,188.6 299.5,211.6 281,234.6 262.5,211.6" fill="#000"/>
<polygon points="411.5,162.0 430.0,185 411.5,208.0 393.0,185" fill="#000"/>
<polygon points="611,369.0 629.5,392 611,415.0 592.5,392" fill="#000"/>
<circle cx="1102" cy="114" r="18.5" fill="#000"/>
<circle cx="1376" cy="426" r="18.5" fill="#000"/>
<circle cx="1596" cy="479" r="18.5" fill="#000"/>
<g transform="translate(272.5,2515) scale(1.0)" fill="#000"><path transform="rotate(0)" d="M0,-1 C-3.2,-5 -5.6,-9 -5.6,-14.2 A5.6,5.6 0 0 1 5.6,-14.2 C5.6,-9 3.2,-5 0,-1 Z"/><path transform="rotate(60)" d="M0,-1 C-3.2,-5 -5.6,-9 -5.6,-14.2 A5.6,5.6 0 0 1 5.6,-14.2 C5.6,-9 3.2,-5 0,-1 Z"/><path transform="rotate(120)" d="M0,-1 C-3.2,-5 -5.6,-9 -5.6,-14.2 A5.6,5.6 0 0 1 5.6,-14.2 C5.6,-9 3.2,-5 0,-1 Z"/><path transform="rotate(180)" d="M0,-1 C-3.2,-5 -5.6,-9 -5.6,-14.2 A5.6,5.6 0 0 1 5.6,-14.2 C5.6,-9 3.2,-5 0,-1 Z"/><path transform="rotate(240)" d="M0,-1 C-3.2,-5 -5.6,-9 -5.6,-14.2 A5.6,5.6 0 0 1 5.6,-14.2 C5.6,-9 3.2,-5 0,-1 Z"/><path transform="rotate(300)" d="M0,-1 C-3.2,-5 -5.6,-9 -5.6,-14.2 A5.6,5.6 0 0 1 5.6,-14.2 C5.6,-9 3.2,-5 0,-1 Z"/><circle r="4.2"/></g>
<g transform="translate(420,2131) scale(1.0)" fill="#000"><path transform="rotate(0)" d="M0,-1 C-3.2,-5 -5.6,-9 -5.6,-14.2 A5.6,5.6 0 0 1 5.6,-14.2 C5.6,-9 3.2,-5 0,-1 Z"/><path transform="rotate(60)" d="M0,-1 C-3.2,-5 -5.6,-9 -5.6,-14.2 A5.6,5.6 0 0 1 5.6,-14.2 C5.6,-9 3.2,-5 0,-1 Z"/><path transform="rotate(120)" d="M0,-1 C-3.2,-5 -5.6,-9 -5.6,-14.2 A5.6,5.6 0 0 1 5.6,-14.2 C5.6,-9 3.2,-5 0,-1 Z"/><path transform="rotate(180)" d="M0,-1 C-3.2,-5 -5.6,-9 -5.6,-14.2 A5.6,5.6 0 0 1 5.6,-14.2 C5.6,-9 3.2,-5 0,-1 Z"/><path transform="rotate(240)" d="M0,-1 C-3.2,-5 -5.6,-9 -5.6,-14.2 A5.6,5.6 0 0 1 5.6,-14.2 C5.6,-9 3.2,-5 0,-1 Z"/><path transform="rotate(300)" d="M0,-1 C-3.2,-5 -5.6,-9 -5.6,-14.2 A5.6,5.6 0 0 1 5.6,-14.2 C5.6,-9 3.2,-5 0,-1 Z"/><circle r="4.2"/></g>
<g transform="translate(612,2220.7) scale(1.0)" fill="#000"><path transform="rotate(0)" d="M0,-1 C-3.2,-5 -5.6,-9 -5.6,-14.2 A5.6,5.6 0 0 1 5.6,-14.2 C5.6,-9 3.2,-5 0,-1 Z"/><path transform="rotate(60)" d="M0,-1 C-3.2,-5 -5.6,-9 -5.6,-14.2 A5.6,5.6 0 0 1 5.6,-14.2 C5.6,-9 3.2,-5 0,-1 Z"/><path transform="rotate(120)" d="M0,-1 C-3.2,-5 -5.6,-9 -5.6,-14.2 A5.6,5.6 0 0 1 5.6,-14.2 C5.6,-9 3.2,-5 0,-1 Z"/><path transform="rotate(180)" d="M0,-1 C-3.2,-5 -5.6,-9 -5.6,-14.2 A5.6,5.6 0 0 1 5.6,-14.2 C5.6,-9 3.2,-5 0,-1 Z"/><path transform="rotate(240)" d="M0,-1 C-3.2,-5 -5.6,-9 -5.6,-14.2 A5.6,5.6 0 0 1 5.6,-14.2 C5.6,-9 3.2,-5 0,-1 Z"/><path transform="rotate(300)" d="M0,-1 C-3.2,-5 -5.6,-9 -5.6,-14.2 A5.6,5.6 0 0 1 5.6,-14.2 C5.6,-9 3.2,-5 0,-1 Z"/><circle r="4.2"/></g>
<g transform="translate(839,2132) scale(1.0)" fill="#000"><path transform="rotate(0)" d="M0,-1 C-3.2,-5 -5.6,-9 -5.6,-14.2 A5.6,5.6 0 0 1 5.6,-14.2 C5.6,-9 3.2,-5 0,-1 Z"/><path transform="rotate(60)" d="M0,-1 C-3.2,-5 -5.6,-9 -5.6,-14.2 A5.6,5.6 0 0 1 5.6,-14.2 C5.6,-9 3.2,-5 0,-1 Z"/><path transform="rotate(120)" d="M0,-1 C-3.2,-5 -5.6,-9 -5.6,-14.2 A5.6,5.6 0 0 1 5.6,-14.2 C5.6,-9 3.2,-5 0,-1 Z"/><path transform="rotate(180)" d="M0,-1 C-3.2,-5 -5.6,-9 -5.6,-14.2 A5.6,5.6 0 0 1 5.6,-14.2 C5.6,-9 3.2,-5 0,-1 Z"/><path transform="rotate(240)" d="M0,-1 C-3.2,-5 -5.6,-9 -5.6,-14.2 A5.6,5.6 0 0 1 5.6,-14.2 C5.6,-9 3.2,-5 0,-1 Z"/><path transform="rotate(300)" d="M0,-1 C-3.2,-5 -5.6,-9 -5.6,-14.2 A5.6,5.6 0 0 1 5.6,-14.2 C5.6,-9 3.2,-5 0,-1 Z"/><circle r="4.2"/></g>
<text x="704" y="135.7" font-size="84" font-weight="bold">TiC<tspan font-size="45" font-weight="normal" dy="17">X</tspan><tspan dy="-17">O</tspan><tspan font-size="45" font-weight="normal" dy="17">Y</tspan></text>
<text x="1146.5" y="130.7" font-size="74.4" font-weight="bold">Graphite peaks</text>
<text x="901" y="2159.5" font-size="83" font-weight="bold">TiC</text>
<text x="1304.5" y="356" font-size="67" font-style="italic" fill="#0000FF">D band</text>
<text x="1535.3" y="415" font-size="66" font-style="italic" fill="#0000FF">G band</text>
<text class="serif" transform="translate(1820.3,406.90) scale(1,0.95)" font-size="107">(a)</text>
<text class="serif" transform="translate(1799,1150.65) scale(1,0.95)" font-size="107">(b)</text>
<text class="serif" transform="translate(1811.5,1788.15) scale(1,0.95)" font-size="107">(c)</text>
<text class="serif" transform="translate(1809.2,2474.15) scale(1,0.95)" font-size="107">(d)</text>
<rect x="1717.75" y="52.75" width="265.5" height="92.5" fill="#fff" stroke="#000" stroke-width="3.5"/><line x1="1726" y1="99" x2="1875" y2="99" stroke="#800000" stroke-width="9.7"/><circle cx="1800" cy="98.5" r="12.5" fill="#800000" stroke="#fff" stroke-width="2"/><text x="1892.5" y="121.2" font-size="67">A1</text>
<rect x="1710.75" y="753.75" width="265.5" height="92.5" fill="#fff" stroke="#000" stroke-width="3.5"/><line x1="1719" y1="800" x2="1869" y2="800" stroke="#00FF00" stroke-width="8"/><circle cx="1793.4" cy="799.6" r="12.5" fill="#00FF00" stroke="#fff" stroke-width="2"/><text x="1886" y="823" font-size="67">B1</text>
<rect x="1702.75" y="1439.75" width="265.5" height="90.90000000000009" fill="#fff" stroke="#000" stroke-width="3.5"/><line x1="1711" y1="1485.4" x2="1861" y2="1485.4" stroke="#FF00FF" stroke-width="7"/><circle cx="1785.2" cy="1484.9" r="12.5" fill="#FF00FF" stroke="#fff" stroke-width="2"/><text x="1879" y="1508.1" font-size="67">A2</text>
<rect x="1711.75" y="2067.75" width="265.5" height="92.5" fill="#fff" stroke="#000" stroke-width="3.5"/><line x1="1720" y1="2114" x2="1869" y2="2114" stroke="#0000FF" stroke-width="8"/><circle cx="1794" cy="2113.8" r="12.5" fill="#2040FF" stroke="#fff" stroke-width="2"/><text x="1886" y="2137" font-size="67">B2</text>
</svg></body></html>
